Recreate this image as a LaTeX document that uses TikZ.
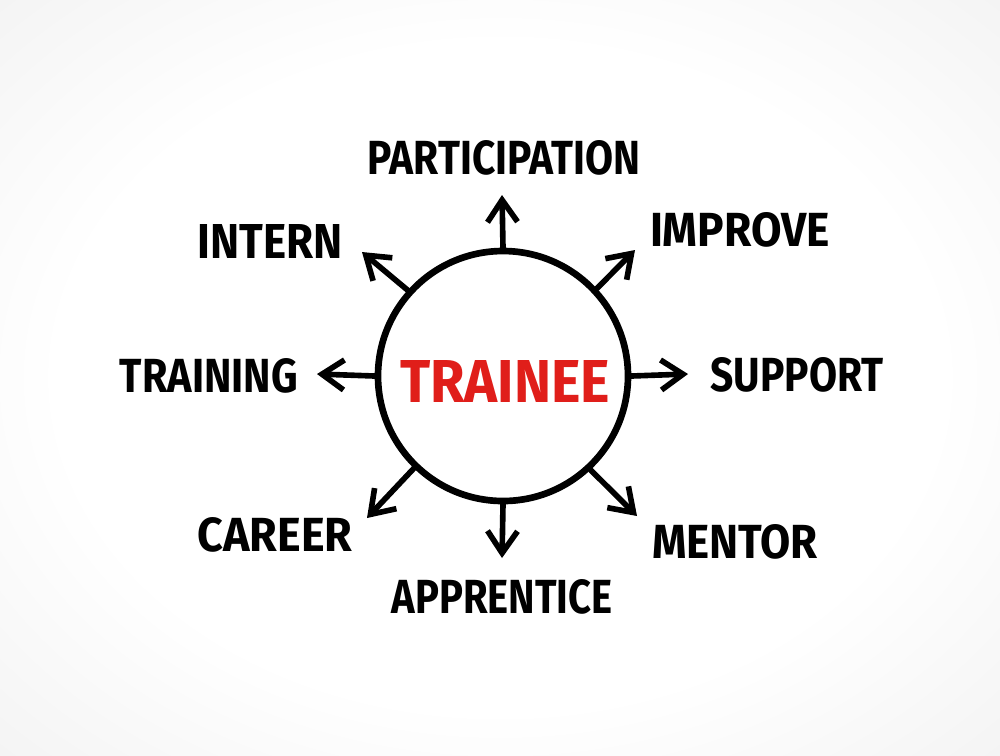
\documentclass[tikz,border=0pt]{standalone}
\usepackage{fontspec}
\setmainfont{Fira Sans}
\usepackage{xcolor,graphicx}
\usepackage{tikz}
\usetikzlibrary{arrows.meta}
\definecolor{traineered}{HTML}{E01E1A}
\pgfdeclareradialshading{paper}{\pgfpoint{0bp}{0bp}}{color(0bp)=(white); color(22bp)=(white); color(50bp)=(black!9); color(75bp)=(black!15)}
\newcommand{\handword}[2]{\resizebox{#1}{0.34cm}{\bfseries #2}}
\tikzset{
  word/.style={inner sep=0pt, text=black},
  arr/.style={line width=1.6pt, line cap=round, -{Straight Barb[length=0.22cm, width=0.3cm, line width=1.6pt]}},
}

\begin{document}
\begin{tikzpicture}
%Trainee map
                  \shade[shading=paper] (-5.03,-3.79) rectangle (4.97,3.76);
                  \useasboundingbox (-5.03,-3.79) rectangle (4.97,3.76);
                  \node [circle, draw, line width=1.9pt, minimum size=2.5cm, inner sep=0pt, fill=white] (trainee) at (0,0) {};
                  \node [word, text=traineered] (center) at (0.02,-0.05) {\resizebox{2.1cm}{0.42cm}{\bfseries TRAINEE}};
                  \coordinate (n1) at (-0.01,1.81);
                  \coordinate (n2) at (1.32,1.26);
                  \coordinate (n3) at (1.85,0.02);
                  \coordinate (n4) at (1.34,-1.40);
                  \coordinate (n5) at (-0.01,-1.82);
                  \coordinate (n6) at (-1.36,-1.42);
                  \coordinate (n7) at (-1.86,0.02);
                  \coordinate (n8) at (-1.41,1.24);
                  \draw [arr] (trainee.90) -- (n1);
                  \draw [arr] (trainee.43.7) -- (n2);
                  \draw [arr] (trainee.0) -- (n3);
                  \draw [arr] (trainee.313.7) -- (n4);
                  \draw [arr] (trainee.270) -- (n5);
                  \draw [arr] (trainee.226.2) -- (n6);
                  \draw [arr] (trainee.180) -- (n7);
                  \draw [arr] (trainee.138.7) -- (n8);
                  \node [word] (participation) at (0.01,2.18) {\handword{2.72cm}{PARTICIPATION}};
                  \node [word] (improve) at (2.37,1.46) {\handword{1.80cm}{IMPROVE}};
                  \node [word] (support) at (2.94,0.01) {\handword{1.73cm}{SUPPORT}};
                  \node [word] (mentor) at (2.32,-1.66) {\handword{1.66cm}{MENTOR}};
                  \node [word] (apprentice) at (-0.01,-2.21) {\handword{2.21cm}{APPRENTICE}};
                  \node [word] (career) at (-2.28,-1.59) {\handword{1.55cm}{CAREER}};
                  \node [word] (training) at (-2.94,0.00) {\handword{1.78cm}{TRAINING}};
                  \node [word] (intern) at (-2.33,1.35) {\handword{1.45cm}{INTERN}};
\end{tikzpicture}
\end{document}
